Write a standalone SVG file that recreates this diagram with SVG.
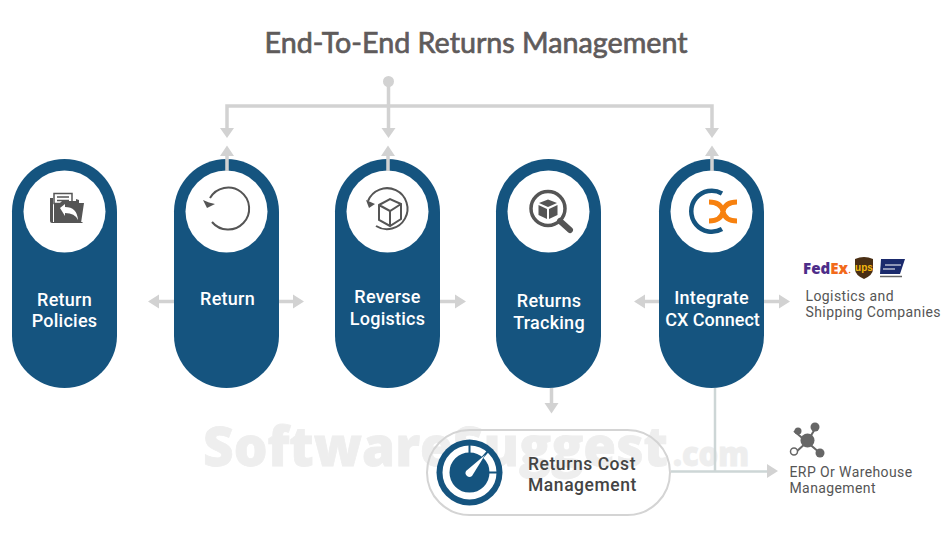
<svg xmlns="http://www.w3.org/2000/svg" width="952" height="545" viewBox="0 0 952 545">
<style>
.pill{fill:#15547f}
.disc{fill:#fff}
.lbl{font-family:Roboto,"Liberation Sans",sans-serif;font-weight:500;font-size:18px;letter-spacing:.25px;fill:#fff;text-anchor:middle}
.sub{font-family:Roboto,"Liberation Sans",sans-serif;font-size:14px;letter-spacing:.4px;fill:#555}
.cost{font-family:Roboto,"Liberation Sans",sans-serif;font-weight:500;font-size:17.5px;letter-spacing:.55px;fill:#444}
.wire{fill:none;stroke:#d2d2d2;stroke-width:3.5}
.thin{fill:none;stroke:#cdd6d6;stroke-width:2.5}
.head{fill:#d2d2d2}
.ico{fill:none;stroke:#555;stroke-width:2}
.icof{fill:#555}
.wm{font-family:"Open Sans",sans-serif;font-weight:800;fill:#eeeeee;stroke:#eeeeee;stroke-width:.8}
</style>
<rect width="952" height="545" fill="#fff"/>
<g id="watermark">
<text class="wm" x="203" y="466" font-size="55" textLength="465" lengthAdjust="spacingAndGlyphs">SoftwareSuggest</text>
<text class="wm" x="673" y="466" font-size="33" textLength="76" lengthAdjust="spacingAndGlyphs">.com</text>
</g>
<text id="title" x="476" y="53" text-anchor="middle" font-family="Lato,'Open Sans',sans-serif" font-size="29" fill="#5f5b5b" stroke="#5f5b5b" stroke-width=".7" textLength="423" lengthAdjust="spacingAndGlyphs">End-To-End Returns Management</text>
<g id="node-return-policies">
<rect class="pill" x="12" y="159" width="105" height="229" rx="52.500"/>
<circle class="disc" cx="64.500" cy="211.500" r="41"/>
<path class="icof" d="M50 198h3v24h30l-1 1H52q-2 0-2-2z"/>
<path d="M54 193.500h18v10h-18z" fill="#fff" stroke="#555" stroke-width="1.500"/>
<path d="M57 197h12M57 200.500h12" stroke="#555" stroke-width="1.500"/>
<path class="icof" d="M54 203h6l2-2h14v-2l3 1v3h5l-3 20H54z"/>
<path d="M60 208l5-4v3q12 0 13 13q-3-7-13-7v3z" fill="#fff"/>
<text class="lbl" x="64.500" y="306">Return</text>
<text class="lbl" x="64.500" y="327">Policies</text>
</g>
<g id="node-return">
<rect class="pill" x="174" y="159" width="105" height="229" rx="52.500"/>
<circle class="disc" cx="226.500" cy="211.500" r="41"/>
<path class="ico" stroke-width="2.200" d="M210 198A21 21 0 1 1 212 222"/>
<path class="icof" d="M203 200l4 8 8-4-6-1.500z"/>
<text class="lbl" x="227.500" y="305">Return</text>
</g>
<g id="node-reverse-logistics">
<rect class="pill" x="335" y="159" width="105" height="229" rx="52.500"/>
<circle class="disc" cx="387.500" cy="211.500" r="41"/>
<path class="ico" d="M368 201A20.500 20.500 0 1 1 376 226"/>
<path class="icof" d="M366 200l3 8 6-4z"/>
<path class="ico" d="M379 205l11-6 11 5v15l-11 7-11-6zM379 205l11 6 11-7M390 211v15"/>
<text class="lbl" x="387.500" y="303">Reverse</text>
<text class="lbl" x="387.500" y="325">Logistics</text>
</g>
<g id="node-returns-tracking">
<rect class="pill" x="496" y="159" width="105" height="229" rx="52.500"/>
<circle class="disc" cx="548.500" cy="211.500" r="41"/>
<circle cx="548" cy="208.500" r="17" fill="none" stroke="#555" stroke-width="3.500"/>
<path d="M560 221l10 9" stroke="#555" stroke-width="6" stroke-linecap="round"/>
<path class="icof" d="M548 199.500l9 3.500-9 4-9-4zM538.500 205l8.500 4v10l-8.500-4zM557.500 205l-8.500 4v10l8.500-4z"/>
<text class="lbl" x="549" y="307">Returns</text>
<text class="lbl" x="549" y="329">Tracking</text>
</g>
<g id="node-cx-connect">
<rect class="pill" x="659" y="159" width="105" height="229" rx="52.500"/>
<circle class="disc" cx="711.500" cy="211.500" r="41"/>
<path d="M722 193.500A20.500 20.500 0 1 0 722 229" fill="none" stroke="#15547f" stroke-width="4.500"/>
<path d="M709 202q12 0 14 9.500q2-9.500 14-9.500M709 221q12 0 14-9.500q2 9.500 14 9.500" fill="none" stroke="#f7810f" stroke-width="4.800"/>
<text class="lbl" x="711.500" y="304">Integrate</text>
<text class="lbl" x="712.500" y="326" style="letter-spacing:0">CX Connect</text>
</g>
<g id="node-logistics">
<text x="803" y="274" font-family="'Open Sans','Liberation Sans',sans-serif" font-weight="800" font-size="15" textLength="45" lengthAdjust="spacingAndGlyphs"><tspan fill="#4d2d89">Fed</tspan><tspan fill="#f26a1b">Ex</tspan></text>
<circle cx="849.500" cy="272.500" r=".8" fill="#f26a1b"/>
<path d="M855 259q9-4 18 0v10q0 6-9 10q-9-4-9-10z" fill="#4a2f14"/>
<text x="864" y="271" text-anchor="middle" font-family="'Liberation Sans',sans-serif" font-weight="700" font-size="10" fill="#f4b90f">ups</text>
<path d="M881 259h24l-5 15h-20z" fill="#1a2a6c"/>
<path d="M885 265h16M883 269h12" stroke="#fff" stroke-width="1.200"/>
<path d="M880 276.500h22" stroke="#666" stroke-width="1.500"/>
<text class="sub" x="805.500" y="301">Logistics and</text>
<text class="sub" x="805.500" y="317">Shipping Companies</text>
</g>
<g id="node-returns-cost">
<rect x="427" y="430" width="243" height="85" rx="42.500" fill="none" stroke="#d4d4d4" stroke-width="2"/>
<circle cx="469.500" cy="472.500" r="33" fill="#15547f"/>
<circle cx="469.500" cy="472.500" r="23.500" fill="none" stroke="#fff" stroke-width="7"/>
<path d="M469.500 453V444M482 458L489 450M489 472.500H499" stroke="#15547f" stroke-width="2"/>
<path d="M466 471l19-16-13 21a4 4 0 0 1-6-5z" fill="#fff"/>
<text class="cost" x="528" y="470">Returns Cost</text>
<text class="cost" x="528" y="491">Management</text>
</g>
<g id="node-erp">
<path d="M807 442L815 429M807 442L794 431M807 442L820 453M807 442L796 452" stroke="#666" stroke-width="2"/>
<circle cx="807.500" cy="440.500" r="7" fill="#666"/>
<circle cx="815" cy="427" r="4.500" fill="#666"/>
<circle cx="798" cy="431" r="3.500" fill="#666"/>
<circle cx="820" cy="453" r="4.500" fill="#666"/>
<circle cx="794" cy="451.500" r="3.500" fill="#fff" stroke="#666" stroke-width="1.500"/>
<text class="sub" x="789.500" y="477">ERP Or Warehouse</text>
<text class="sub" x="789.500" y="493">Management</text>
</g>
<g id="connectors">
<circle class="head" cx="388.500" cy="81.500" r="5.500"/>
<path class="wire" d="M388.500 82V128M227 132V106H712V132"/>
<path class="head" d="M220 128h14l-7 10zM381.500 128h14l-7 10zM705 128h14l-7 10z"/>
<path class="wire" d="M227 152V171M388 152V171M712 152V171"/>
<path class="head" d="M220 156h14l-7-10.500zM381 156h14l-7-10.500zM705 156h14l-7-10.500z"/>
<path class="wire" d="M158 301.500H174M279 301.500H294M440 301.500H456M645 301.500H659M764 301.500H780"/>
<path class="head" d="M159 294.500v14l-11-7zM293 294.500l11 7-11 7zM455 294.500l11 7-11 7zM645 294.500v14l-11-7zM779 294.500l11 7-11 7z"/>
<path class="wire" d="M551.500 388V404"/>
<path class="head" d="M544.500 403h14l-7 10.500z"/>
<path class="thin" d="M715 388V471M671 471.500H769"/>
<path class="head" d="M767 464v14l11-7z"/>
</g>
</svg>
